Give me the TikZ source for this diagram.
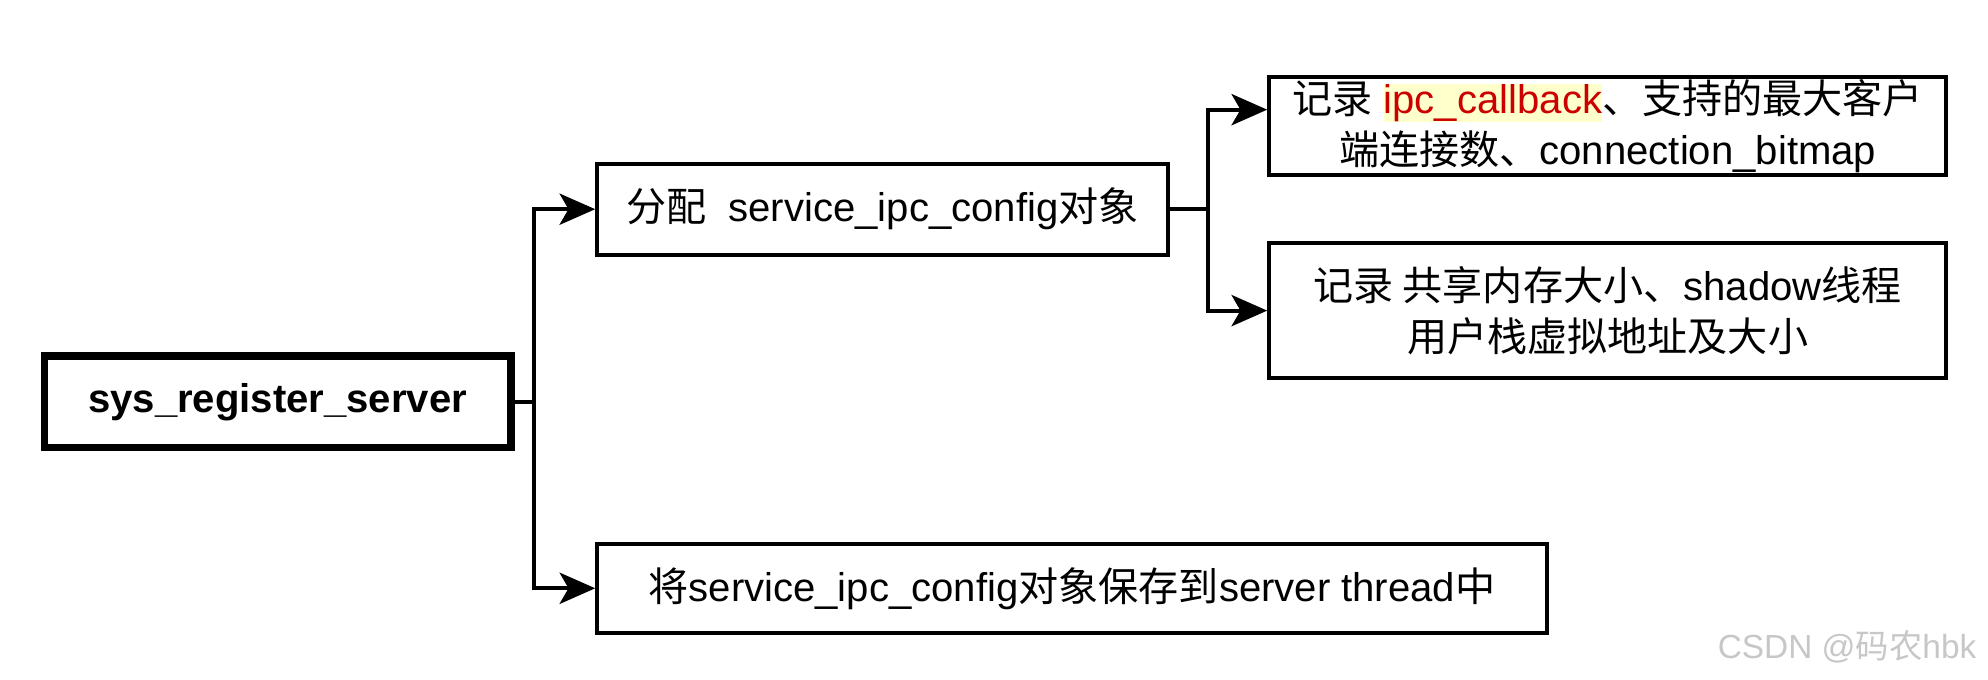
\documentclass[tikz,border=0pt]{standalone}
\usepackage{fontspec}
\setmainfont{Liberation Sans}
\newfontfamily\cjk{Noto Sans CJK SC}
\newcommand{\zh}[1]{{\cjk #1}}
\usetikzlibrary{arrows.meta}
\begin{document}
\begin{tikzpicture}[x=0.02cm,y=-0.02cm,
  box/.style={draw,line width=1.8pt,minimum height=1.44cm,align=center,font=\fontsize{18}{23}\selectfont,inner sep=0pt},
  arr/.style={line width=1.8pt,-{Stealth[length=16pt,width=14pt,inset=4pt]}}]
\useasboundingbox (0,0) rectangle (1568,536);
\node[box,line width=3.5pt,minimum width=7.36cm,font=\fontsize{18}{23}\selectfont\bfseries] (sys) at (219,317) {sys\_register\_server};
\node[box,minimum width=9cm] (alloc) at (696,165) {\zh{分配}\ \ service\_ipc\_config\zh{对象}};
\node[box,minimum width=10.68cm,minimum height=1.54cm] (rec1) at (1268,99.5) {\zh{记录} {\fboxsep=0pt\colorbox[HTML]{FFFFCC}{\color[HTML]{CC0000}ipc\_callback}}\zh{、支持的最大客户}\\\zh{端连接数、}connection\_bitmap};
\node[box,minimum width=10.68cm,minimum height=2.12cm] (rec2) at (1268,245) {\zh{记录 共享内存大小、}shadow\zh{线程}\\\zh{用户栈虚拟地址及大小}};
\node[box,minimum width=14.98cm,minimum height=1.4cm] (save) at (845.5,464) {\zh{将}service\_ipc\_config\zh{对象保存到}server thread\zh{中}};
\coordinate (j1) at (421,317);
\coordinate (j2) at (953,165);
\draw[line width=1.8pt] (sys.east) -- (j1);
\draw[arr] (j1) |- (alloc.west);
\draw[arr] (j1) |- (save.west);
\draw[line width=1.8pt] (alloc.east) -- (j2);
\draw[arr] (j2) |- ([yshift=0.26cm]rec1.west);
\draw[arr] (j2) |- (rec2.west);
\node[text=black!22,font=\fontsize{15}{18}\selectfont,anchor=east] (wm) at (1565,510) {CSDN @\zh{码农}hbk};
\end{tikzpicture}
\end{document}
